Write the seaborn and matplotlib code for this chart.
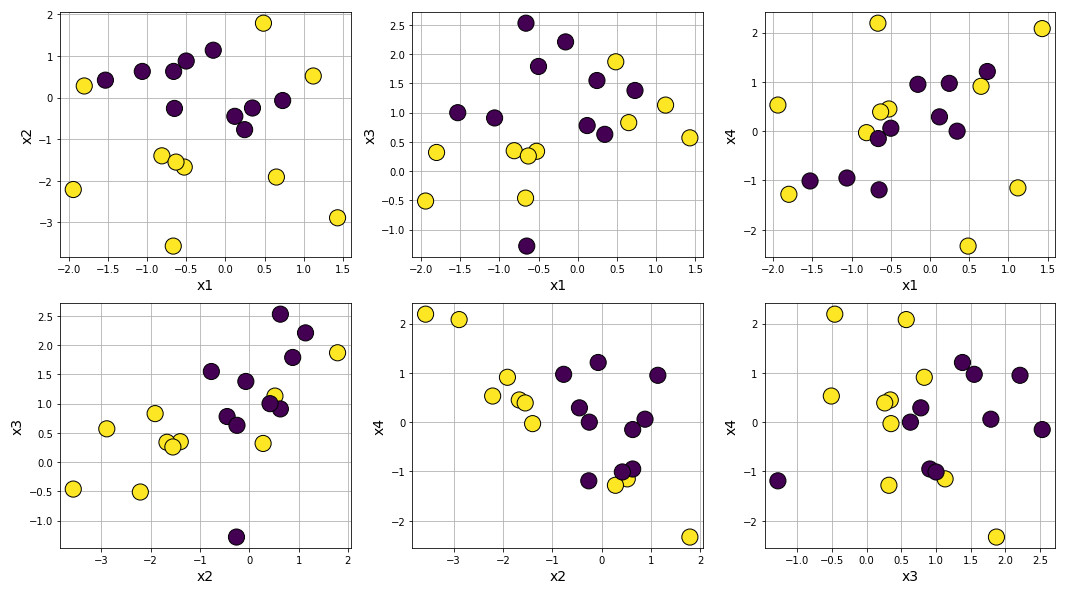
import pandas as pd
import matplotlib
matplotlib.use('Agg')
import matplotlib.pyplot as plt
import seaborn as sns

# Feature values (10 points of class 1, then 10 of class 0)
x1 = [-1.94, -0.81, -0.525, -0.63, -0.665, 0.485, 0.65, 1.12, 1.43, -1.80,
      -1.06, -1.53, -0.66, -0.65, -0.50, -0.155, 0.12, 0.245, 0.345, 0.73]
x2 = [-2.21, -1.40, -1.67, -1.55, -3.57, 1.79, -1.91, 0.52, -2.89, 0.28,
      0.63, 0.42, 0.63, -0.26, 0.88, 1.14, -0.45, -0.77, -0.25, -0.07]
x3 = [-0.51, 0.35, 0.34, 0.26, -0.46, 1.87, 0.83, 1.13, 0.57, 0.32,
      0.91, 1.00, 2.53, -1.28, 1.79, 2.21, 0.78, 1.55, 0.63, 1.38]
x4 = [0.53, -0.03, 0.45, 0.39, 2.19, -2.33, 0.91, -1.15, 2.08, -1.28,
      -0.95, -1.01, -0.15, -1.19, 0.06, 0.95, 0.29, 0.97, 0.00, 1.21]
label = [1] * 10 + [0] * 10

df = pd.DataFrame({'x1': x1, 'x2': x2, 'x3': x3, 'x4': x4, 'label': label})

pairs = [('x1', 'x2'), ('x1', 'x3'), ('x1', 'x4'),
         ('x2', 'x3'), ('x2', 'x4'), ('x3', 'x4')]

fig, axes = plt.subplots(2, 3, figsize=(14.83, 8.26), dpi=72)
for ax, (a, b) in zip(axes.flat, pairs):
    sns.scatterplot(data=df, x=a, y=b, hue='label',
                    palette={0: '#440154', 1: '#fde725'},
                    s=260, edgecolor='black', linewidth=1, alpha=1,
                    legend=False, ax=ax, zorder=3)
    ax.grid(True, color='#b0b0b0', zorder=0)
    ax.set_axisbelow(True)
    ax.set_xlabel(a, fontsize=14)
    ax.set_ylabel(b, fontsize=14)

plt.tight_layout()
plt.savefig('out.png', dpi=72)
